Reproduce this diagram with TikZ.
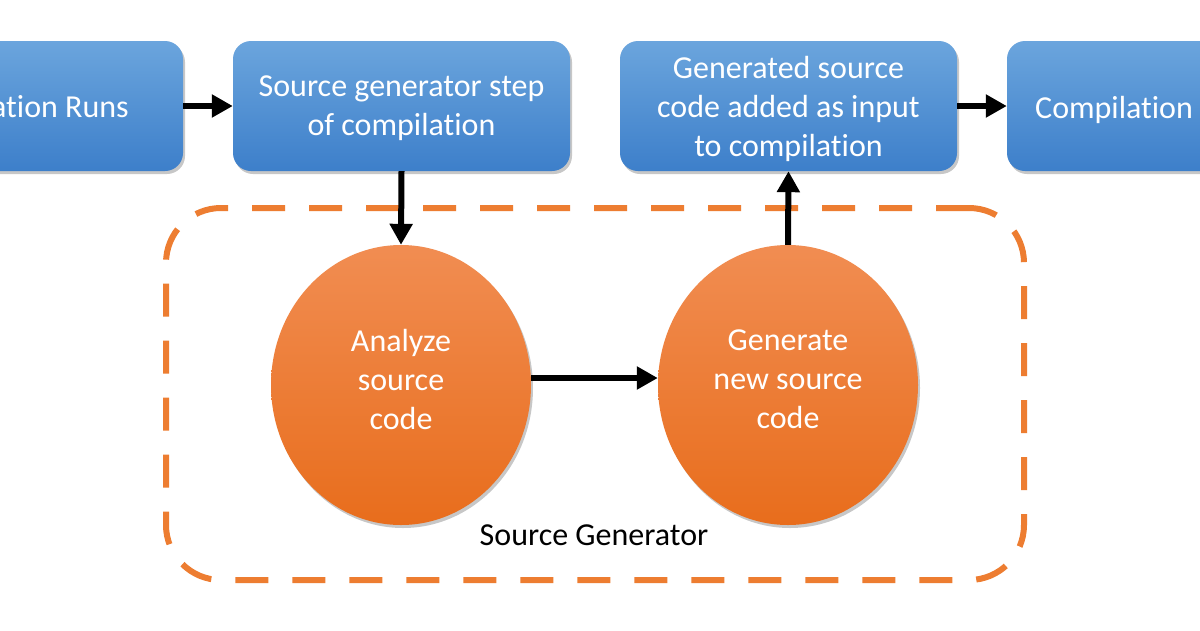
\documentclass[tikz,border=0pt]{standalone}
\usepackage{fontspec}
\setmainfont{Carlito}[Ligatures=NoCommon]
\usetikzlibrary{shapes.geometric,arrows.meta,shadows}
\definecolor{boxtop}{HTML}{6BA5DD}
\definecolor{boxbot}{HTML}{3D7FCA}
\definecolor{ortop}{HTML}{F18D52}
\definecolor{orbot}{HTML}{E86D1C}
\definecolor{dashor}{HTML}{ED7D31}
\begin{document}
\begin{tikzpicture}[x=1pt,y=-1pt,
  txt/.style={font=\fontsize{32}{39}\selectfont},
  bluebox/.style={txt, rounded corners=18pt, top color=boxtop, bottom color=boxbot,
    minimum width=337pt, minimum height=130pt, text=white, align=center, inner sep=0pt,
    text depth=0pt,
    drop shadow={shadow xshift=2pt, shadow yshift=-3pt, opacity=0.22, fill=black}},
  orcircle/.style={txt, ellipse, top color=ortop, bottom color=orbot,
    minimum width=260pt, minimum height=280pt, inner sep=0pt, text=white, align=center,
    text depth=12pt,
    drop shadow={shadow xshift=2pt, shadow yshift=-3pt, opacity=0.22, fill=black}},
  conn/.style={line width=6pt, black, -{Triangle[length=21pt,width=22pt]}},
  group/.style={draw=dashor, line width=6pt, dash pattern=on 33pt off 24pt,
    rounded corners=55pt, minimum width=858pt, minimum height=372pt, inner sep=0pt}
]
\useasboundingbox (0,0) rectangle (1200,630);
\fill[white] (0,0) rectangle (1200,630);

\node[group] (sg) at (595,394) {};
\node[txt, text=black] (sglabel) at (594,535) {Source Generator};

\node[bluebox] (b1) at (14.5,106) {Compilation Runs};
\node[bluebox] (b2) at (401.5,106) {Source generator step\\of compilation};
\node[bluebox] (b3) at (788.5,106) {Generated source\\code added as input\\to compilation};
\node[bluebox] (b4) at (1175.5,106) {};
\node[txt, text=white, anchor=west, inner sep=0pt, text depth=0pt] (t4) at (1035,107) {Compilation};

\node[orcircle] (c1) at (401,385) {Analyze\\source\\code};
\node[orcircle] (c2) at (788,385) {Generate\\new source\\code};

\draw[conn] (b1.east) -- (b2.west);
\draw[conn] (b3.east) -- (b4.west);
\draw[conn] (b2.south) -- (c1.north);
\draw[conn] ([yshift=7pt]c1.east) -- ([yshift=7pt]c2.west);
\draw[conn] (c2.north) -- (b3.south);
\end{tikzpicture}
\end{document}
